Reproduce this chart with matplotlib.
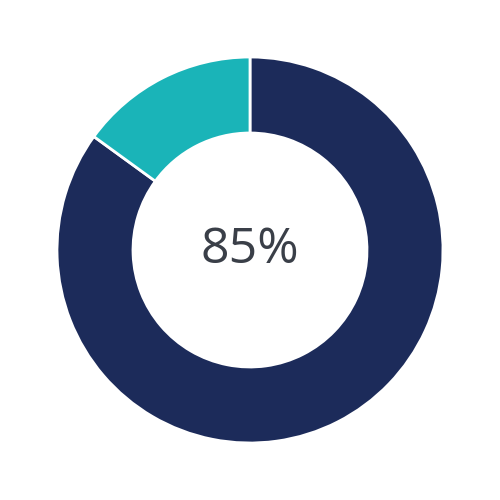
import matplotlib.pyplot as plt

labels = ['Yes', 'No']
values = [85, 15]
colors = ['#1c2b5a', '#1ab4b8']
center_text = '85%'

fig = plt.figure(figsize=(5, 5), dpi=100)
ax = fig.add_axes([0, 0, 1, 1])
ax.pie(values, colors=colors, startangle=90, counterclock=False,
       radius=193, center=(0, 0),
       wedgeprops=dict(width=76, edgecolor='white', linewidth=2))
ax.text(0, 0, center_text, ha='center', va='center', fontsize=36,
        color='#3a3f48', family='Open Sans')
ax.set_xlim(-250, 250)
ax.set_ylim(-250, 250)
ax.set_aspect('equal')
ax.axis('off')
fig.savefig('out.png', dpi=100, facecolor='white')
